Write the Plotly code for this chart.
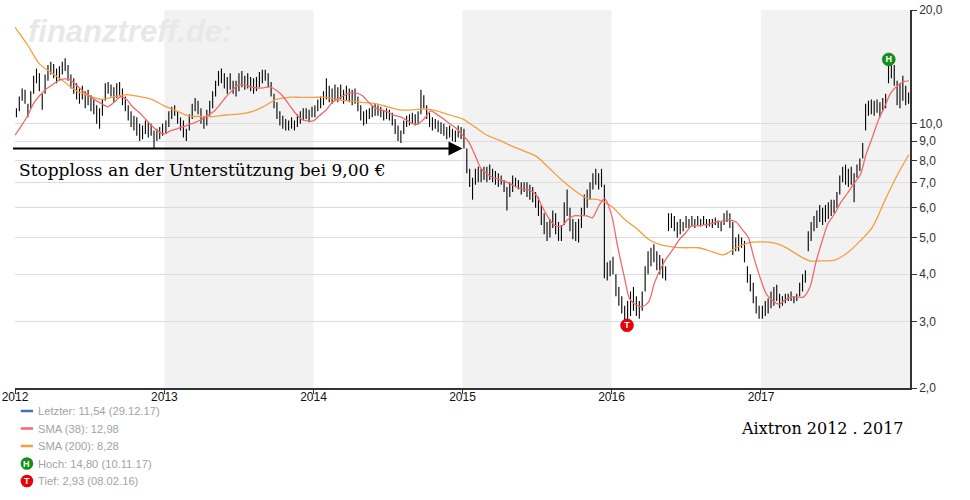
import numpy as np
import pandas as pd
import plotly.graph_objects as go

# ---------------- data (weekly low/high ranges) ----------------
ranges_2012 = [(10.4,11.0),(10.8,11.8),(11.5,12.4),(11.3,12.3),
 (10.4,11.3),(11.0,12.2),(12.0,13.4),(12.8,14.0),(12.2,13.6),
 (10.9,12.0),(12.0,13.5),(13.0,14.3),(13.5,14.6),
 (13.2,14.4),(12.8,14.0),(13.0,14.2),(13.5,14.6),
 (13.8,14.9),(13.0,14.3),(12.4,13.5),(12.0,13.2),(11.6,12.8),
 (11.3,12.4),(11.6,12.6),(11.0,12.2),(11.2,12.3),
 (10.8,11.9),(10.6,11.6),(10.0,11.2),(9.7,11.0),(10.5,11.6),
 (11.5,12.8),(12.0,12.9),(11.8,12.7),(11.4,12.5),
 (11.7,12.8),(11.9,12.9),(11.2,12.4),(10.8,11.8),
 (10.2,11.2),(9.8,10.8),(9.6,10.5),(9.3,10.4),(9.0,10.0),
 (9.1,9.9),(9.4,10.2),(9.2,10.1),(9.3,10.0),
 (8.6,9.6),(9.0,9.7),(9.1,9.8),(9.3,10.0)]
ranges_2013 = [(9.4,10.2),(9.8,10.8),(10.3,11.1),(10.5,11.2),
 (10.0,10.8),(9.6,10.4),(9.2,10.2),(9.0,9.7),
 (9.6,10.6),(10.3,11.3),(10.8,11.7),(10.6,11.5),
 (10.0,11.0),(9.7,10.4),(9.9,10.9),(10.5,11.5),
 (11.0,12.2),(11.8,13.0),(12.6,13.8),(12.8,14.0),(12.4,13.6),
 (12.0,13.3),(12.3,13.6),(12.0,13.0),(11.8,13.0),
 (12.2,13.6),(12.5,13.8),(12.3,13.4),(12.4,13.6),(12.2,13.3),
 (12.0,13.2),(12.2,13.3),(12.5,13.7),(12.8,13.9),
 (13.0,13.9),(12.5,13.6),(11.8,12.9),(11.0,12.0),
 (10.3,11.4),(9.9,10.8),(9.7,10.5),(9.6,10.3),(9.6,10.2),
 (9.7,10.4),(9.6,10.2),(9.8,10.6),(10.0,10.8),
 (10.2,11.0),(10.3,11.0),(10.1,10.9),(10.4,11.1)]
ranges_2014 = [(10.4,11.2),(10.8,11.6),(11.0,11.8),(11.2,12.2),
 (11.6,13.2),(11.4,12.6),(11.3,12.4),(11.5,12.7),
 (11.4,12.5),(11.6,12.7),(11.3,12.3),(11.5,12.6),(11.4,12.4),
 (11.2,12.3),(11.3,12.4),(10.8,11.8),(10.2,11.2),
 (9.9,10.8),(10.0,10.9),(10.3,11.0),(10.4,11.2),(10.5,11.3),
 (10.5,11.2),(10.4,11.1),(10.2,10.9),(10.3,11.0),
 (10.2,10.9),(9.9,10.7),(9.4,10.3),(9.0,9.9),(8.9,9.6),
 (9.4,10.2),(9.8,10.5),(9.9,10.6),(10.0,10.7),
 (9.9,10.6),(10.0,10.8),(10.6,12.3),(11.0,11.9),
 (10.3,11.2),(9.8,10.7),(9.6,10.4),(9.7,10.3),(9.5,10.2),
 (9.4,10.1),(9.3,10.0),(9.1,9.8),(9.2,9.9),
 (9.0,9.7),(8.95,9.6),(9.2,9.9),(9.1,9.8)]
ranges_2015 = [(8.6,9.7),(7.4,8.6),(6.8,7.6),(6.3,7.2),
 (6.9,7.6),(7.0,7.7),(7.0,7.6),(7.1,7.7),
 (7.0,7.7),(7.1,7.8),(7.0,7.6),(6.9,7.5),(6.8,7.4),
 (6.9,7.3),(6.6,7.1),(5.9,6.8),(6.4,7.0),
 (6.6,7.3),(6.8,7.2),(6.7,7.1),(6.5,7.0),(6.6,7.0),
 (6.4,7.0),(6.3,6.9),(6.2,6.8),(6.0,6.6),
 (5.7,6.4),(5.4,6.1),(5.1,5.8),(4.9,5.5),(5.0,5.6),
 (5.3,5.9),(5.1,5.8),(4.9,5.5),(4.9,5.4),
 (5.4,6.2),(5.7,6.7),(5.2,6.0),(4.95,5.6),
 (4.9,5.5),(4.85,5.6),(5.3,6.0),(5.7,6.5),(6.0,6.7),
 (6.3,7.0),(6.7,7.4),(6.9,7.6),(6.7,7.4),
 (6.8,7.6),(3.9,6.9),(3.85,4.3),(3.95,4.35)]
ranges_2016 = [(4.0,4.45),(3.5,4.0),(3.3,3.7),(3.15,3.5),
 (2.93,3.3),(3.0,3.4),(3.1,3.6),(3.2,3.7),
 (3.1,3.5),(3.05,3.4),(3.2,3.6),(3.6,4.2),(4.0,4.6),
 (4.2,4.7),(4.3,4.8),(4.1,4.6),(4.0,4.5),
 (3.9,4.4),(3.85,4.2),(5.2,5.8),(5.3,5.8),
 (5.2,5.7),(5.0,5.5),(5.1,5.6),(5.2,5.5),(5.3,5.7),
 (5.3,5.6),(5.35,5.7),(5.3,5.6),(5.4,5.7),
 (5.35,5.6),(5.4,5.7),(5.3,5.6),(5.35,5.6),
 (5.3,5.6),(5.4,5.65),(5.3,5.55),(5.2,5.5),
 (5.4,5.8),(5.5,5.9),(5.3,5.8),(4.5,5.5),(4.6,5.0),
 (4.6,5.1),(4.7,5.0),(4.3,4.9),(3.8,4.2),
 (3.6,4.0),(3.35,3.8),(3.15,3.5),(3.05,3.3)]
ranges_2017 = [(3.05,3.3),(3.1,3.4),(3.15,3.45),(3.25,3.6),
 (3.3,3.7),(3.4,3.75),(3.25,3.55),(3.3,3.5),
 (3.35,3.55),(3.4,3.55),(3.4,3.6),(3.35,3.5),(3.4,3.55),
 (3.5,3.8),(3.6,4.0),(3.8,4.1),(4.6,5.2),
 (4.9,5.5),(5.2,5.7),(5.3,5.9),(5.5,6.1),(5.4,6.0),
 (5.5,6.1),(5.6,6.2),(5.7,6.3),(5.8,6.3),
 (6.0,6.6),(6.5,7.3),(7.0,7.7),(6.9,7.8),(6.8,7.6),
 (6.9,7.7),(6.2,7.4),(7.2,7.8),(7.5,8.1),
 (8.1,8.9),(9.6,11.3),(10.5,11.5),(10.6,11.6),
 (10.5,11.5),(10.7,11.6),(10.4,11.4),(10.8,11.7),(11.0,12.0),
 (12.8,14.8),(13.2,14.7),(12.6,14.3),(11.2,13.0),
 (11.0,12.8),(11.5,13.4),(11.2,12.6),(11.3,12.1)]
yearly_ranges = {2012: ranges_2012, 2013: ranges_2013, 2014: ranges_2014,
                 2015: ranges_2015, 2016: ranges_2016, 2017: ranges_2017}

# SMA(38), semi-monthly readings (1st and 15th) + last value
sma38_values = [9.33, 9.82, 10.50, 11.29, 11.86, 12.29, 12.67, 12.98, 13.14, 13.06, 12.60, 12.22,
 11.86, 11.57, 11.29, 11.09, 11.43, 11.79, 11.57, 11.09, 10.69, 10.31, 9.88, 9.58,
 9.40, 9.58, 9.70, 9.82, 9.94, 10.06, 10.25, 10.50, 10.76, 11.17, 11.79, 12.22,
 12.67, 12.67, 12.52, 12.44, 12.44, 12.52, 12.29, 11.93, 11.29, 10.76, 10.31, 10.18,
 10.18, 10.50, 10.88, 11.36, 11.64, 11.86, 12.07, 12.07, 11.86, 11.43, 11.02, 10.88,
 10.76, 10.56, 10.44, 10.25, 10.0, 10.0, 10.37, 10.82, 10.56, 10.31, 10.0, 9.76,
 9.33, 9.0, 8.25, 7.62, 7.39, 7.22, 7.13, 7.04, 6.91, 6.79, 6.71, 6.67,
 6.47, 6.04, 5.61, 5.39, 5.36, 5.57, 5.71, 5.71, 5.71, 5.64, 6.07, 6.34,
 5.74, 4.79, 3.95, 3.43, 3.32, 3.28, 3.38, 3.79, 4.15, 4.41, 4.68, 4.94,
 5.15, 5.37, 5.37, 5.40, 5.44, 5.50, 5.54, 5.57, 5.50, 5.27, 5.0, 4.41,
 3.86, 3.53, 3.39, 3.33, 3.42, 3.48, 3.48, 3.48, 3.70, 4.28, 4.94, 5.47,
 5.79, 6.19, 6.55, 6.91, 7.32, 8.27, 9.22, 10.19, 11.17, 12.07, 12.60, 12.91]
sma38_last = 12.98
# SMA(200), monthly readings + last value
sma200_values = [18.0, 16.16, 14.4, 13.6, 12.9, 12.2, 11.85, 11.6, 11.8, 11.95, 11.8, 11.6,
 11.15, 10.8, 10.5, 10.45, 10.45, 10.55, 10.6, 10.75, 11.1, 11.6, 11.75, 11.75,
 11.75, 11.75, 11.57, 11.5, 11.4, 11.3, 11.1, 10.88, 10.88, 10.95, 10.8, 10.55,
 10.3, 9.8, 9.34, 9.05, 8.74, 8.47, 8.2, 7.64, 7.1, 6.68, 6.35, 6.29,
 6.05, 5.6, 5.3, 4.94, 4.78, 4.72, 4.7, 4.7, 4.6, 4.5, 4.7, 4.84,
 4.87, 4.84, 4.72, 4.5, 4.34, 4.34, 4.36, 4.56, 4.9, 5.33, 6.29, 7.32]
sma200_last = 8.28
last_date = "2017-12-29"

hoch_date, hoch_value = "2017-11-10", 14.80
tief_date, tief_value = "2016-02-08", 2.93

year_ticks = [2012, 2013, 2014, 2015, 2016, 2017]
shaded_years = [2013, 2015, 2017]
price_ticks = [2, 3, 4, 5, 6, 7, 8, 9, 10, 20]
price_tick_text = ["2,0", "3,0", "4,0", "5,0", "6,0", "7,0", "8,0", "9,0", "10,0", "20,0"]

legend_labels = ["Letzter: 11,54 (29.12.17)", "SMA (38): 12,98", "SMA (200): 8,28",
                 "Hoch: 14,80 (10.11.17)", "Tief: 2,93 (08.02.16)"]
stop_text = "Stopploss an der Unterstützung bei 9,00 €"
stop_date, stop_value = "2015-01-01", 8.6
title_text = "Aixtron 2012 . 2017"
watermark = "finanztreff.de:"

# ---------------- build ----------------
bx, by = [], []
for yr, rng in yearly_ranges.items():
    start = pd.Timestamp(f"{yr}-01-01")
    n = len(rng)
    for i, (lo, hi) in enumerate(rng):
        d = start + pd.Timedelta(days=(i + 0.5) * 365.0 / n)
        bx += [d, d, None]
        by += [lo, hi, None]

sma38_dates = list(pd.date_range("2012-01-01", periods=len(sma38_values), freq="SMS")) + [pd.Timestamp(last_date)]
sma200_dates = list(pd.date_range("2012-01-01", periods=len(sma200_values), freq="MS")) + [pd.Timestamp(last_date)]

fig = go.Figure()
fig.add_trace(go.Scatter(x=bx, y=by, mode="lines", line=dict(color="black", width=1.1),
                         hoverinfo="skip", showlegend=False, connectgaps=False))
fig.add_trace(go.Scatter(x=sma200_dates, y=sma200_values + [sma200_last], mode="lines",
                         line=dict(color="#f2a040", width=1.3, shape="spline", smoothing=0.8),
                         showlegend=False))
fig.add_trace(go.Scatter(x=sma38_dates, y=sma38_values + [sma38_last], mode="lines",
                         line=dict(color="#ef6a6a", width=1.3, shape="spline", smoothing=0.8),
                         showlegend=False))
fig.add_trace(go.Scatter(x=[hoch_date], y=[hoch_value], mode="markers+text", text=["<b>H</b>"],
                         textposition="middle center", textfont=dict(color="white", size=9, family="Arial"),
                         marker=dict(size=13, color="#14901a", line=dict(color="#0d6b12", width=0.5)),
                         showlegend=False))
fig.add_trace(go.Scatter(x=[tief_date], y=[tief_value], mode="markers+text", text=["<b>T</b>"],
                         textposition="middle center", textfont=dict(color="white", size=9, family="Arial"),
                         marker=dict(size=13, color="#e8000b", line=dict(color="#b00008", width=0.5)),
                         showlegend=False))

shapes = []
for yr in shaded_years:
    shapes.append(dict(type="rect", xref="x", yref="paper", x0=f"{yr}-01-01", x1=f"{yr+1}-01-01",
                       y0=0, y1=1, fillcolor="#f2f2f2", line=dict(width=0), layer="below"))

# manual legend (bottom-left)
PLOT_L, PLOT_W, PLOT_B, PLOT_H = 15, 895, 388, 378
def px(xp):
    return (xp - PLOT_L) / PLOT_W
def py(yp):
    return (PLOT_B - yp) / PLOT_H

legend_rows = [411.0, 428.5, 446.0, 463.5, 481.0]
legend_line_colors = ["#3d72b8", "#ef6a6a", "#f2a040"]
annotations = []
for i, lab in enumerate(legend_labels):
    yc = legend_rows[i]
    if i < 3:
        shapes.append(dict(type="line", xref="paper", yref="paper", x0=px(20.7), x1=px(33),
                           y0=py(yc), y1=py(yc), line=dict(color=legend_line_colors[i], width=2.5)))
    else:
        col = "#14901a" if i == 3 else "#e8000b"
        shapes.append(dict(type="circle", xref="paper", yref="paper", x0=px(20.6), x1=px(33.2),
                           y0=py(yc + 6.3), y1=py(yc - 6.3), fillcolor=col, line=dict(width=0)))
        annotations.append(dict(xref="paper", yref="paper", x=px(26.9), y=py(yc), text="<b>%s</b>" % ("H" if i == 3 else "T"),
                                showarrow=False, xanchor="center", yanchor="middle",
                                font=dict(family="Arial", size=9, color="white")))
    annotations.append(dict(xref="paper", yref="paper", x=px(36), y=py(yc), text=lab, showarrow=False,
                            xanchor="left", yanchor="middle",
                            font=dict(family="Arial", size=11.2, color="#a3a3a3")))

annotations.append(dict(xref="paper", yref="paper", x=px(26), y=py(12), text="<b><i>%s</i></b>" % watermark,
                        showarrow=False, xanchor="left", yanchor="top",
                        font=dict(family="Arial", size=31, color="#e8e8e8")))
annotations.append(dict(x=stop_date, y=np.log10(stop_value), xref="x", yref="y", text="",
                        showarrow=True, ax=-451, ay=0, arrowhead=2, arrowsize=1.4, arrowwidth=2,
                        arrowcolor="black", standoff=0))
annotations.append(dict(xref="paper", yref="paper", x=px(17), y=py(170), text=stop_text, showarrow=False,
                        xanchor="left", yanchor="middle",
                        font=dict(family="DejaVu Serif", size=17, color="black")))
annotations.append(dict(xref="paper", yref="paper", x=px(906), y=py(428), text=title_text, showarrow=False,
                        xanchor="right", yanchor="middle",
                        font=dict(family="DejaVu Serif", size=16, color="black")))

fig.update_layout(
    width=970, height=500, margin=dict(l=15, r=60, t=10, b=112),
    paper_bgcolor="white", plot_bgcolor="white",
    shapes=shapes, annotations=annotations, showlegend=False,
    xaxis=dict(type="date", range=["2012-01-01", "2018-01-01"], automargin=False,
               tickvals=[f"{y}-01-01" for y in year_ticks], ticktext=[str(y) for y in year_ticks],
               ticks="outside", ticklen=4, tickcolor="#333", showgrid=False, zeroline=False,
               showline=True, linecolor="#333", linewidth=1.5, ticklabelstandoff=-7,
               tickfont=dict(family="Arial", size=12, color="#111")),
    yaxis=dict(type="log", range=[np.log10(2), np.log10(20)], side="right", automargin=False,
               tickvals=price_ticks, ticktext=price_tick_text,
               ticks="outside", ticklen=5, tickcolor="#333", showgrid=True, gridcolor="#dcdcdc",
               gridwidth=1, zeroline=False, showline=True, linecolor="#333", linewidth=1.5,
               tickfont=dict(family="Arial", size=12, color="#333")),
)
fig.write_html("out.html")
